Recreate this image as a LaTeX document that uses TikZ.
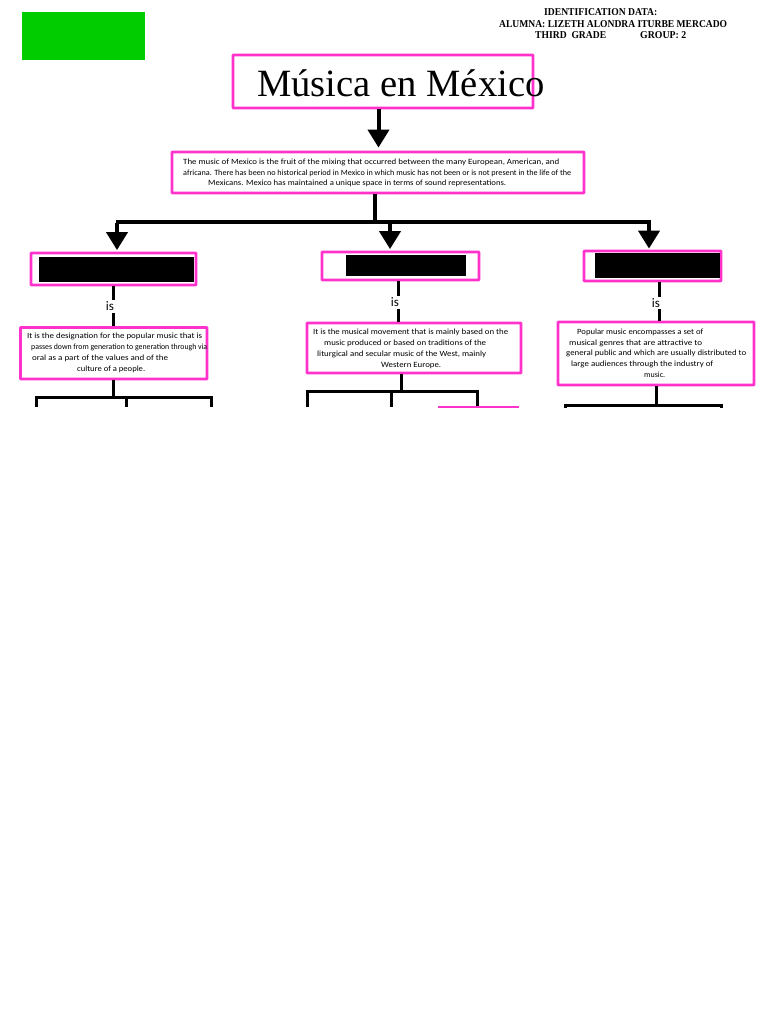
\documentclass[tikz,border=0pt]{standalone}
\usepackage{fontspec}
\setmainfont{Liberation Serif}
\newfontfamily\bodyfont{Carlito}
\usetikzlibrary{arrows.meta}
\definecolor{pinkline}{HTML}{FF33CC}
\definecolor{greenblock}{HTML}{00CC00}
\newcommand{\rectnode}[6]{\node[#1,minimum width={(#5-#3)*1pt},minimum height={(#6-#4)*1pt}] (#2) at ({(#3+#5)/2},{(#4+#6)/2}) {};}
\newcommand{\ltxt}[3]{\hspace*{#1pt}\resizebox{#2pt}{\height}{#3}}
\tikzset{
  pinkbox/.style={draw=pinkline,line width=2.8pt,fill=white,inner sep=0pt,rounded corners=0.6pt},
  blackbox/.style={fill=black,draw=none,inner sep=0pt},
  greenbox/.style={fill=greenblock,draw=none,inner sep=0pt},
  bodytext/.style={anchor=north west,inner sep=0pt,align=left,text=black,font=\bodyfont\fontsize{8}{10.7}\selectfont},
  headtext/.style={anchor=north west,inner sep=0pt,align=left,text=black,font=\bfseries\fontsize{10.5}{11.6}\selectfont},
  islabel/.style={inner sep=0pt,text=black,minimum height=12pt,font=\bodyfont\fontsize{13}{13}\selectfont},
  bigarrow/.style={draw=black,line width=4pt,-{Triangle[width=21pt,length=18pt]}},
  heavyline/.style={draw=black,line width=3.2pt},
  bracket/.style={draw=black,line width=3pt},
  isline/.style={draw=black,line width=2.6pt},
}
\begin{document}
\begin{tikzpicture}[x=1pt,y=-1pt]
\useasboundingbox (0,0) rectangle (768,1024);
\fill[white] (0,0) rectangle (768,1024);
% header
\rectnode{greenbox}{logo}{22}{12}{145}{60}
\node[headtext] (ident) at (499,8.5) {\ltxt{45}{113}{IDENTIFICATION DATA:}\\\ltxt{0}{228}{ALUMNA: LIZETH ALONDRA ITURBE MERCADO}\\\ltxt{36}{71}{THIRD\ \ GRADE}\hspace{34pt}\resizebox{46pt}{\height}{GROUP: 2}};
% title
\rectnode{pinkbox}{title}{233}{55}{533}{108}
\node[inner sep=0pt,anchor=west,font=\fontsize{38.6}{40}\selectfont] (titletext) at (257,83.5) {Música en México};
% intro
\rectnode{pinkbox}{intro}{172}{152}{584}{193}
\node[bodytext] (introtext) at (183,158.7) {\ltxt{0}{376}{The music of Mexico is the fruit of the mixing that occurred between the many European, American, and}\\\ltxt{0}{388}{africana. There has been no historical period in Mexico in which music has not been or is not present in the life of the}\\\ltxt{25}{298}{Mexicans. Mexico has maintained a unique space in terms of sound representations.}};
% category boxes
\rectnode{pinkbox}{catA}{31}{253}{196}{285}
\rectnode{blackbox}{catAfill}{39}{257}{194}{282}
\rectnode{pinkbox}{catB}{322}{252}{479}{280}
\rectnode{blackbox}{catBfill}{346}{255}{466}{276}
\rectnode{pinkbox}{catC}{584}{251}{721}{281}
\rectnode{blackbox}{catCfill}{595}{253}{720}{278}
% descriptions
\rectnode{pinkbox}{descA}{20.5}{327.5}{207}{379}
\node[bodytext] (descAtext) at (27,333.2) {\ltxt{0}{175}{It is the designation for the popular music that is}\\\ltxt{4}{176}{passes down from generation to generation through via}\\\ltxt{5}{136}{oral as a part of the values and of the}\\\ltxt{50}{68}{culture of a people.}};
\rectnode{pinkbox}{descB}{307}{323}{521}{373}
\node[bodytext] (descBtext) at (313,329.2) {\ltxt{0}{195}{It is the musical movement that is mainly based on the}\\\ltxt{11}{162}{music produced or based on traditions of the}\\\ltxt{4}{169}{liturgical and secular music of the West, mainly}\\\ltxt{68}{60}{Western Europe.}};
\rectnode{pinkbox}{descC}{558}{322}{754}{385}
\node[bodytext] (descCtext) at (566,328.7) {\ltxt{11}{126}{Popular music encompasses a set of}\\\ltxt{3}{133}{musical genres that are attractive to}\\\ltxt{0}{180}{general public and which are usually distributed to}\\\ltxt{5}{142}{large audiences through the industry of}\\\ltxt{78}{21}{music.}};
% is labels
\node[islabel] (isA) at (110,306.5) {is};
\node[islabel] (isB) at (395,302.5) {is};
\node[islabel] (isC) at (656,303) {is};
% bus points
\coordinate (busJoin) at (375,222);
\coordinate (busA) at (117,222);
\coordinate (busB) at (390,222);
\coordinate (busC) at (649,222);
% arrows
\draw[bigarrow,shorten >=3pt] (378.5,0 |- title.south) -- (378.5,0 |- intro.north);
\draw[heavyline] (busJoin |- intro.south) -- (busJoin);
\draw[heavyline] ([xshift=-1.5pt]busA) -- ([xshift=1.5pt]busC);
\draw[bigarrow,shorten >=1.5pt] ([yshift=-1.5pt]busA) -- (busA |- catA.north);
\draw[bigarrow,shorten >=1.5pt] ([yshift=-1.5pt]busB) -- (busB |- catB.north);
\draw[bigarrow,shorten >=1pt] ([yshift=-1.5pt]busC) -- (busC |- catC.north);
% category to description, broken by the word is
\draw[isline,line width=3pt] (113,0 |- catA.south) -- (113,0 |- isA.north);
\draw[isline,line width=3pt] (113,0 |- isA.south) -- (113,0 |- descA.north);
\draw[isline,line width=3pt] (398,0 |- catB.south) -- (398,0 |- isB.north);
\draw[isline] (398.5,0 |- isB.south) -- (398.5,0 |- descB.north);
\draw[isline] (659.5,0 |- catC.south) -- (659.5,0 |- isC.north);
\draw[isline] (659.5,0 |- isC.south) -- (659.5,0 |- descC.north);
% lower brackets, cut off at y=407
\coordinate (brA) at (113,397);
\coordinate (brAl) at (36.5,407);
\coordinate (brAm) at (126.5,407);
\coordinate (brAr) at (211,407);
\draw[bracket] (brA |- descA.south) -- (brA);
\draw[bracket] (brAl) |- (brAr |- brA) -- (brAr);
\draw[bracket] (brAm |- brA) -- (brAm);
\coordinate (brB) at (401,391);
\coordinate (brBl) at (307.5,407);
\coordinate (brBm) at (391,407);
\coordinate (brBr) at (477.5,407);
\draw[bracket] (brB |- descB.south) -- (brB);
\draw[bracket] (brBl) |- (brBr |- brB) -- (brBr);
\draw[bracket] (brBm |- brB) -- (brBm);
\coordinate (cutL) at (438,407);
\coordinate (cutR) at (519,407);
\draw[draw=pinkline,line width=2pt] (cutL) -- (cutR);
\coordinate (brC) at (656,405);
\coordinate (brCl) at (565,407.5);
\coordinate (brCr) at (721,407.5);
\draw[bracket] (brC |- descC.south) -- (brC);
\draw[bracket] (brCl) |- (brCr |- brC) -- (brCr);
% blank lower page
\fill[white] (0,408) rectangle (768,1024);
\end{tikzpicture}
\end{document}
